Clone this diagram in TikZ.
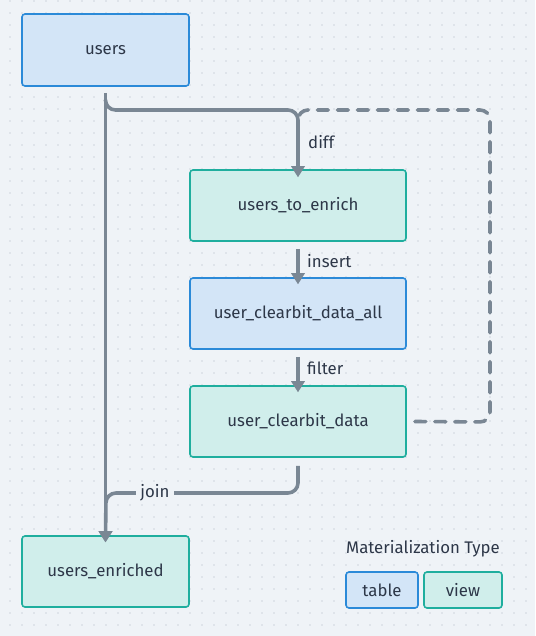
\documentclass[tikz,border=0pt]{standalone}
\usepackage{fontspec}
\setmainfont{Fira Sans}
\definecolor{bg}{HTML}{EFF3F7}
\definecolor{dotc}{HTML}{CFD6DE}
\definecolor{tblfill}{HTML}{D3E5F7}
\definecolor{tbldraw}{HTML}{2B8AD8}
\definecolor{viewfill}{HTML}{D0EEEB}
\definecolor{viewdraw}{HTML}{1FAE9E}
\definecolor{edge}{HTML}{7A8794}
\definecolor{txt}{HTML}{2D3748}
\tikzset{
  base/.style={rounded corners=3pt, line width=1.6pt, text=txt, font=\fontsize{16.8}{18}\selectfont, inner sep=0pt},
  tbl/.style={base, fill=tblfill, draw=tbldraw},
  viewbox/.style={base, fill=viewfill, draw=viewdraw},
  conn/.style={draw=edge, line width=3.6pt},
  arrline/.style={conn, shorten >=5pt},
  lbl/.style={text=txt, font=\fontsize{16.8}{18}\selectfont, inner sep=1pt},
  ahead/.pic={\fill[edge, sharp corners] (0,0) -- (-7,-11) -- (7,-11) -- cycle;}
}
\begin{document}
\begin{tikzpicture}[x=1pt,y=-1pt]
\useasboundingbox (0,0) rectangle (535,636);
\fill[bg] (0,0) rectangle (535,636);
\foreach \i in {0,...,44} {
  \foreach \j in {0,...,53} {
    \fill[dotc] (10+12*\i,1+12*\j) circle (0.9pt);
  }
}
% nodes
\node[tbl, minimum width=167pt, minimum height=72pt] (users) at (105.5,50) {users};
\node[viewbox, minimum width=216pt, minimum height=71pt] (ute) at (298,205.5) {users\_to\_enrich};
\node[tbl, minimum width=216pt, minimum height=71pt] (ucda) at (298,313.5) {user\_clearbit\_data\_all};
\node[viewbox, minimum width=216pt, minimum height=71pt] (ucd) at (298,421.5) {user\_clearbit\_data};
\node[viewbox, minimum width=167pt, minimum height=71pt] (ue) at (105.5,571.5) {users\_enriched};
% legend
\node[lbl, anchor=west] (legtitle) at (345,549) {Materialization Type};
\node[tbl, minimum width=72pt, minimum height=36pt] (legtbl) at (382,590) {table};
\node[viewbox, minimum width=78pt, minimum height=36pt] (legview) at (463,590) {view};
% dashed feedback
\coordinate (dA) at ([xshift=8pt]ucd.east);
\draw[conn, line cap=round, dashed, dash pattern=on 11pt off 9pt, rounded corners=10pt] (dA) -- (490,422) -- (490,110) -- (298,110) -- (298,128);
% users -> users_enriched
\draw[arrline] ([yshift=-6pt]users.south) -- ([yshift=-7pt]ue.north) pic {ahead};
% users -> users_to_enrich
\draw[arrline, rounded corners=10pt] ([yshift=-14pt]users.south) |- (298,110) -- ([yshift=-8pt]ute.north) pic {ahead};
\node[lbl, anchor=west] (ldiff) at (307,142) {diff};
% insert
\draw[arrline] ([yshift=-7pt]ute.south) -- ([yshift=-7pt]ucda.north) pic {ahead};
\node[lbl, anchor=west] (lins) at (306,261) {insert};
% filter
\draw[arrline] ([yshift=-7pt]ucda.south) -- ([yshift=-7pt]ucd.north) pic {ahead};
\node[lbl, anchor=west] (lfil) at (306,368) {filter};
% join
\draw[arrline, rounded corners=10pt] ([yshift=-8pt]ucd.south) |- (106,493) -- ([yshift=-7pt]ue.north) pic {ahead};
\node[lbl, fill=bg, inner xsep=4pt] (ljoin) at (155,493) {join};
\end{tikzpicture}
\end{document}
